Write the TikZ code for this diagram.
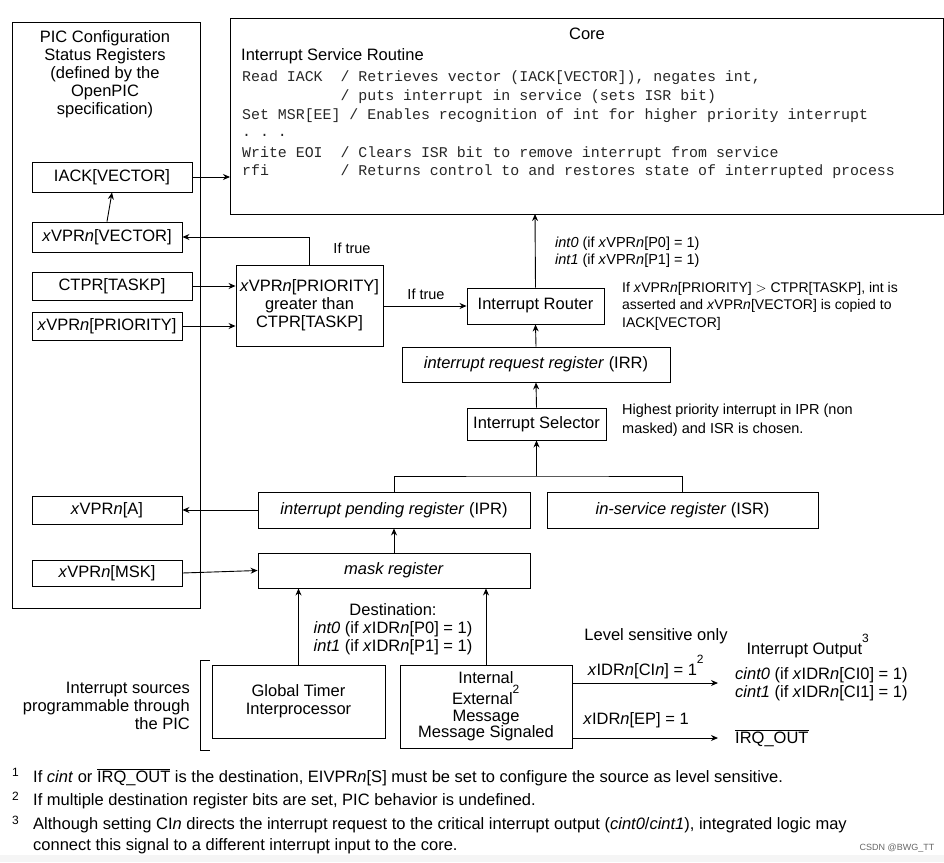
\documentclass[tikz,border=0pt]{standalone}
\usepackage{fontspec}
\setmainfont{Liberation Sans}
\newfontfamily\codefont{Liberation Mono}
\usetikzlibrary{arrows.meta}
\newcommand{\supnum}[1]{$^{\raisebox{5pt}{\fontsize{12}{12}\selectfont #1}}$}
\begin{document}
\begin{tikzpicture}[x=1pt,y=-1pt,
  bx/.style={draw,line width=0.9pt,inner sep=0pt},
  ar/.style={-{Stealth[length=7pt,width=6pt]},line width=0.9pt},
  ln/.style={line width=0.9pt},
  tx/.style={font=\fontsize{16.5}{18}\selectfont,inner sep=0pt},
  sm/.style={font=\fontsize{14.5}{17}\selectfont,inner sep=0pt},
  code/.style={font=\codefont\fontsize{14.9}{16}\selectfont,inner sep=0pt,anchor=west,text=black!85}]
\useasboundingbox (0,0) rectangle (944,862);
\fill[black!4] (0,855) rectangle (944,862);
% left panel
\draw[bx] (12,22) rectangle (200,608);
\node[tx,align=center] (lt) at (105,74) {PIC Configuration\\Status Registers\\(defined by the\\OpenPIC\\specification)};
\node[bx,tx,minimum width=160,minimum height=30] (iack) at (112,177) {IACK[VECTOR]};
\node[bx,tx,minimum width=150,minimum height=30] (vvec) at (107,237) {\textit{x}VPR\textit{n}[VECTOR]};
\node[bx,tx,minimum width=160,minimum height=28] (ctpr) at (112,286) {CTPR[TASKP]};
\node[bx,tx,minimum width=150,minimum height=28] (vpri) at (107,326) {\textit{x}VPR\textit{n}[PRIORITY]};
\node[bx,tx,minimum width=150,minimum height=28] (va) at (107,510) {\textit{x}VPR\textit{n}[A]};
\node[bx,tx,minimum width=150,minimum height=26] (vmsk) at (107,573) {\textit{x}VPR\textit{n}[MSK]};
% core
\draw[bx] (230,18) rectangle (943,214);
\coordinate (corebot) at (535,214);
\coordinate (coreleft) at (230,177);
\node[tx] (core) at (587,34) {Core};
\node[tx,anchor=west] (isr) at (241,56) {Interrupt Service Routine};
\node[code] (c1) at (242,78) {Read IACK\ \ / Retrieves vector (IACK[VECTOR]), negates int,};
\node[code] (c2) at (242,97) {\phantom{Read IACK\ \ }/ puts interrupt in service (sets ISR bit)};
\node[code] (c3) at (242,116) {Set MSR[EE] / Enables recognition of int for higher priority interrupt};
\node[code] (c4) at (242,135) {.\ .\ .};
\node[code] (c5) at (242,154) {Write EOI\ \ / Clears ISR bit to remove interrupt from service};
\node[code] (c6) at (242,172) {rfi\ \ \ \ \ \ \ \ / Returns control to and restores state of interrupted process};
% compare
\node[bx,tx,minimum width=147,minimum height=81,align=center] (cmp) at (309.5,305.5) {\textit{x}VPR\textit{n}[PRIORITY]\\greater than\\CTPR[TASKP]};
\node[bx,tx,minimum width=137,minimum height=36] (rt) at (535.5,306) {Interrupt Router};
\node[bx,tx,minimum width=268,minimum height=35] (irr) at (536,364.5) {\textit{interrupt request register} (IRR)};
\node[bx,tx,minimum width=139,minimum height=32] (sel) at (536.5,424) {Interrupt Selector};
\node[bx,tx,minimum width=272,minimum height=36] (ipr) at (394,510) {\textit{interrupt pending register} (IPR)};
\node[bx,tx,minimum width=271,minimum height=36] (isrr) at (682.5,510) {\textit{in-service register} (ISR)};
\node[bx,tx,minimum width=272,minimum height=35] (mask) at (394,570.5) {\textit{mask register}};
\node[bx,tx,minimum width=173,minimum height=73,align=center] (gt) at (298.5,701.5) {Global Timer\\Interprocessor};
\node[bx,tx,minimum width=172,minimum height=83,align=center,font=\fontsize{16.5}{16.5}\selectfont] (ie) at (486,706.5) {Internal\\External\supnum{2}\\Message\\Message Signaled};
% arrows left
\draw[ar] (vvec.north) -- (iack.south);
\draw[ar] (iack.east) -- (coreleft);
\draw[ar] (ctpr.east) -- (cmp.west |- ctpr.east);
\draw[ar] (vpri.east) -- (cmp.west |- vpri.east);
\draw[ar] (cmp.north) |- (vvec.east);
\node[sm] (ift1) at (352,248) {If true};
\draw[ar] (cmp.east |- rt.west) -- (rt.west);
\node[sm] (ift2) at (426,294) {If true};
\draw[ar] (rt.north) -- (corebot);
\node[sm,anchor=west,align=left] (intl) at (555,252) {\textit{int0} (if \textit{x}VPR\textit{n}[P0] = 1)\\\textit{int1} (if \textit{x}VPR\textit{n}[P1] = 1)};
\node[sm,anchor=north west,align=left,font=\fontsize{14}{17.5}\selectfont] (rtxt) at (622,282) {If \textit{x}VPR\textit{n}[PRIORITY] $>$ CTPR[TASKP], int is\\asserted and \textit{x}VPR\textit{n}[VECTOR] is copied to\\IACK[VECTOR]};
\draw[ar] (irr.north) -- (rt.south);
\draw[ar] (sel.north) -- (irr.south);
\node[sm,anchor=north west,align=left,font=\fontsize{14.5}{19}\selectfont] (stxt) at (622,404) {Highest priority interrupt in IPR (non\\masked) and ISR is chosen.};
\coordinate (jn) at (536.5,476);
\draw[ln] (ipr.north) |- (jn) -| (isrr.north);
\draw[ar] (jn) -- (sel.south);
\draw[ar] (ipr.west) -- (va.east);
\draw[ar] (mask.north) -- (ipr.south);
\draw[ar] (vmsk.east) -- (mask.west);
\draw[ar] (gt.north) -- (gt.north |- mask.south);
\draw[ar] (ie.north) -- (ie.north |- mask.south);
\node[tx,align=center] (dest) at (393,629) {Destination:\\\textit{int0} (if \textit{x}IDR\textit{n}[P0] = 1)\\\textit{int1} (if \textit{x}IDR\textit{n}[P1] = 1)};
\draw[ln] (210,660) -- (200,660) -- (200,750) -- (210,750);
\node[tx,align=right,anchor=east] (src) at (190,706) {Interrupt sources\\programmable through\\the PIC};
\coordinate (o1) at (718,683);
\coordinate (o2) at (718,738);
\draw[ar] (ie.east |- o1) -- (o1);
\draw[ar] (ie.east |- o2) -- (o2);
\node[tx] (lvl) at (656,636) {Level sensitive only};
\node[tx] (cin) at (646,667) {\textit{x}IDR\textit{n}[CI\textit{n}] = 1\supnum{2}};
\node[tx] (ep) at (636,720) {\textit{x}IDR\textit{n}[EP] = 1};
\node[tx] (io) at (808,646) {Interrupt Output\supnum{3}};
\node[tx,anchor=west,align=left] (cint) at (735,684) {\textit{cint0} (if \textit{x}IDR\textit{n}[CI0] = 1)\\\textit{cint1} (if \textit{x}IDR\textit{n}[CI1] = 1)};
\node[tx,anchor=west] (irq) at (735,738) {$\overline{\mbox{IRQ\_OUT}}$};
% footnotes
\node[tx,anchor=west,font=\fontsize{12}{12}\selectfont] (f1n) at (12,772) {1};
\node[tx,anchor=west] (f1) at (33,777) {If \textit{cint} or $\overline{\mbox{IRQ\_OUT}}$ is the destination, EIVPR\textit{n}[S] must be set to configure the source as level sensitive.};
\node[tx,anchor=west,font=\fontsize{12}{12}\selectfont] (f2n) at (12,796) {2};
\node[tx,anchor=west] (f2) at (33,801) {If multiple destination register bits are set, PIC behavior is undefined.};
\node[tx,anchor=west,font=\fontsize{12}{12}\selectfont] (f3n) at (12,820) {3};
\node[tx,anchor=west,align=left,font=\fontsize{16.5}{21}\selectfont] (f3) at (33,836) {Although setting CI\textit{n} directs the interrupt request to the critical interrupt output (\textit{cint0}/\textit{cint1}), integrated logic may\\connect this signal to a different interrupt input to the core.};
\node[tx,font=\fontsize{9}{10}\selectfont,text=black!60] (wm) at (897,848) {CSDN @BWG\_TT};
\end{tikzpicture}
\end{document}
